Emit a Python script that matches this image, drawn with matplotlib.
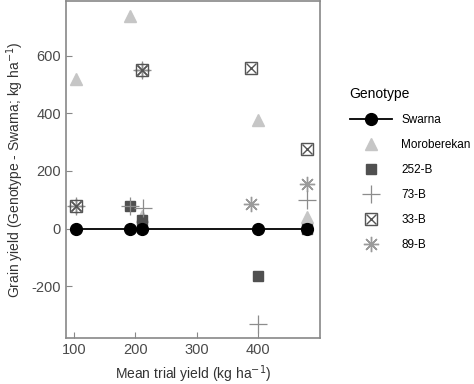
import matplotlib
matplotlib.use("Agg")
import matplotlib.pyplot as plt
from matplotlib.legend_handler import HandlerTuple

plt.rcParams['font.family'] = ['Liberation Sans', 'DejaVu Sans']
plt.rcParams['axes.unicode_minus'] = False

# data
swarna_x = [104, 191, 211, 399, 479]
swarna_y = [0, 0, 0, 0, 0]
morob_x = [104, 192, 211, 399, 479]
morob_y = [520, 738, 45, 378, 40]
b252_x = [192, 211, 399, 479]
b252_y = [77, 30, -165, 0]
b73_x = [104, 192, 213, 211, 399, 479]
b73_y = [78, 78, 70, 550, -330, 100]
b33_x = [104, 211, 388, 479]
b33_y = [78, 550, 558, 277]
b89_x = [104, 211, 388, 479]
b89_y = [78, 550, 86, 155]

xticks = [100, 200, 300, 400]
yticks = [-200, 0, 200, 400, 600]

fig = plt.figure(figsize=(4.74, 3.84), dpi=100)
ax = fig.add_axes([0.139, 0.12, 0.536, 0.877])

asterisk = (8, 2, 0)
h_m, = ax.plot(morob_x, morob_y, ls='none', marker='^', ms=9, color='#c6c6c6', zorder=3)
h_252, = ax.plot(b252_x, b252_y, ls='none', marker='s', ms=7.5, color='#505050', zorder=4)
h_89, = ax.plot(b89_x, b89_y, ls='none', marker=asterisk, ms=11, mew=1, color='#9a9a9a', zorder=5)
h_33a, = ax.plot(b33_x, b33_y, ls='none', marker='s', ms=8, mfc='none', mec='#555555', mew=1, zorder=6)
h_33b, = ax.plot(b33_x, b33_y, ls='none', marker='x', ms=6.5, mec='#555555', mew=1, zorder=6)
h_73, = ax.plot(b73_x, b73_y, ls='none', marker='+', ms=13, mew=0.9, color='#8c8c8c', zorder=5)
h_sw, = ax.plot(swarna_x, swarna_y, '-', color='black', lw=1.3, marker='o', ms=8.5, zorder=7)

ax.set_xlim(87, 500)
ax.set_ylim(-380, 790)
ax.set_xticks(xticks)
ax.set_yticks(yticks)
ax.tick_params(direction='in', length=4, colors='#888888', labelcolor='#4a4a4a', labelsize=10.5)
for s in ax.spines.values():
    s.set_color('#888888')
    s.set_linewidth(1.2)

ax.set_xlabel('Mean trial yield (kg ha$^{-1}$)', fontsize=10, color='#333333', labelpad=5)
ax.set_ylabel('Grain yield (Genotype - Swarna; kg ha$^{-1}$)', fontsize=10, color='#333333', labelpad=4)

fig.legend([h_sw, h_m, h_252, h_73, (h_33a, h_33b), h_89],
           ['Swarna', 'Moroberekan', '252-B', '73-B', '33-B', '89-B'],
           handler_map={tuple: HandlerTuple(ndivide=1, pad=0)},
           title='Genotype', loc='upper left', bbox_to_anchor=(0.715, 0.80),
           frameon=False, fontsize=8.5, title_fontsize=10, labelspacing=1.1,
           handlelength=3.6, handletextpad=0.8, alignment='left')

fig.savefig('out.png', dpi=100)
